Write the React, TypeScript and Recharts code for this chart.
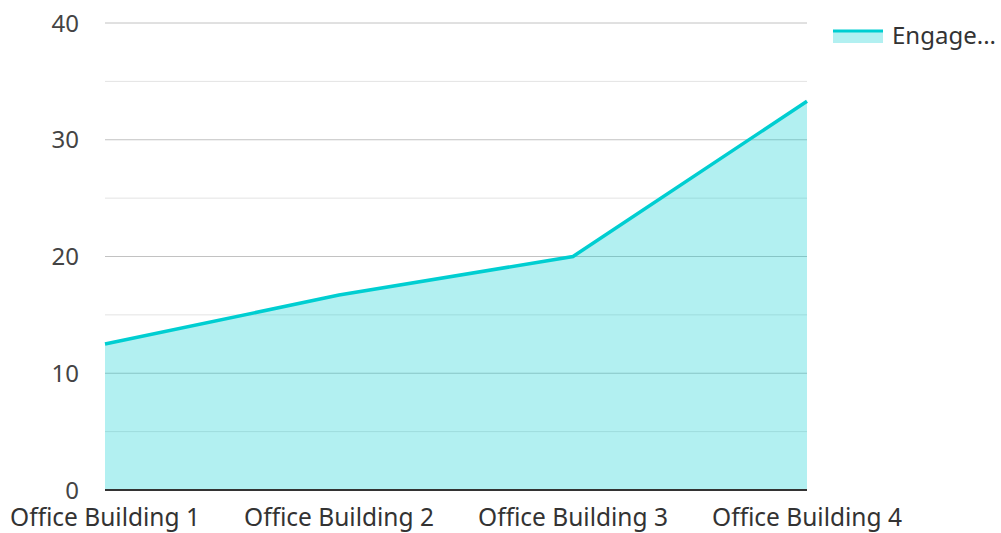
import React from 'react';
import { AreaChart, Area, XAxis, YAxis, CartesianGrid } from 'recharts';

const categories = ['Office Building 1', 'Office Building 2', 'Office Building 3', 'Office Building 4'];
const engagement = [12.5, 16.7, 20, 33.3];
const yTicks = [0, 5, 10, 15, 20, 25, 30, 35, 40];
const seriesName = 'Engage...';

const data = categories.map((c, i) => ({ name: c, value: engagement[i] }));

const COLOR = '#00CED1';
const FONT = '"Noto Sans", "Open Sans", sans-serif';

const YTick = (props: any) => {
  const { x, y, payload } = props;
  if (payload.value % 10 !== 0) return null;
  return (
    <text x={x} y={y} dy="0.355em" textAnchor="end" fill="#444" fontSize={24} fontFamily={FONT}>
      {payload.value}
    </text>
  );
};

const GridLine = (props: any) => {
  const { x1, x2, y1, y2, index } = props;
  const major = index % 2 === 0;
  return <line x1={x1} x2={x2} y1={y1} y2={y2} stroke={major ? '#c2c2c2' : '#e3e3e3'} strokeWidth={1} />;
};

const LegendBox = () => (
  <div
    style={{
      position: 'absolute',
      left: 833,
      top: 18,
      display: 'flex',
      alignItems: 'center',
      fontFamily: FONT,
      fontSize: 24,
      color: '#333',
      whiteSpace: 'nowrap',
    }}
  >
    <svg width={50} height={16} style={{ marginRight: 9 }}>
      <rect x={0} y={4} width={50} height={12} fill={COLOR} fillOpacity={0.3} />
      <line x1={0} x2={50} y1={4} y2={4} stroke={COLOR} strokeWidth={3} />
    </svg>
    <span>{seriesName}</span>
  </div>
);

export default function App() {
  return (
    <div style={{ position: 'absolute', left: 0, top: 0, width: 1001, height: 533, background: '#fff' }}>
      <AreaChart width={1001} height={533} data={data} margin={{ top: 23, right: 194, bottom: 0, left: 0 }}>
        <CartesianGrid vertical={false} horizontal={GridLine} />
        <XAxis
          dataKey="name"
          tickLine={false}
          axisLine={{ stroke: '#333', strokeWidth: 2 }}
          tick={{ fill: '#333', fontSize: 24.5, fontFamily: FONT }}
          tickSize={0}
          tickMargin={19}
          height={43}
          interval={0}
        />
        <YAxis
          domain={[0, 40]}
          ticks={yTicks}
          interval={0}
          axisLine={false}
          tickLine={false}
          tickSize={0}
          tickMargin={26}
          width={105}
          tick={YTick}
        />
        <Area
          type="linear"
          dataKey="value"
          name={seriesName}
          stroke={COLOR}
          strokeWidth={3.5}
          fill={COLOR}
          fillOpacity={0.3}
          isAnimationActive={false}
          dot={false}
          activeDot={false}
        />
      </AreaChart>
      <LegendBox />
    </div>
  );
}
